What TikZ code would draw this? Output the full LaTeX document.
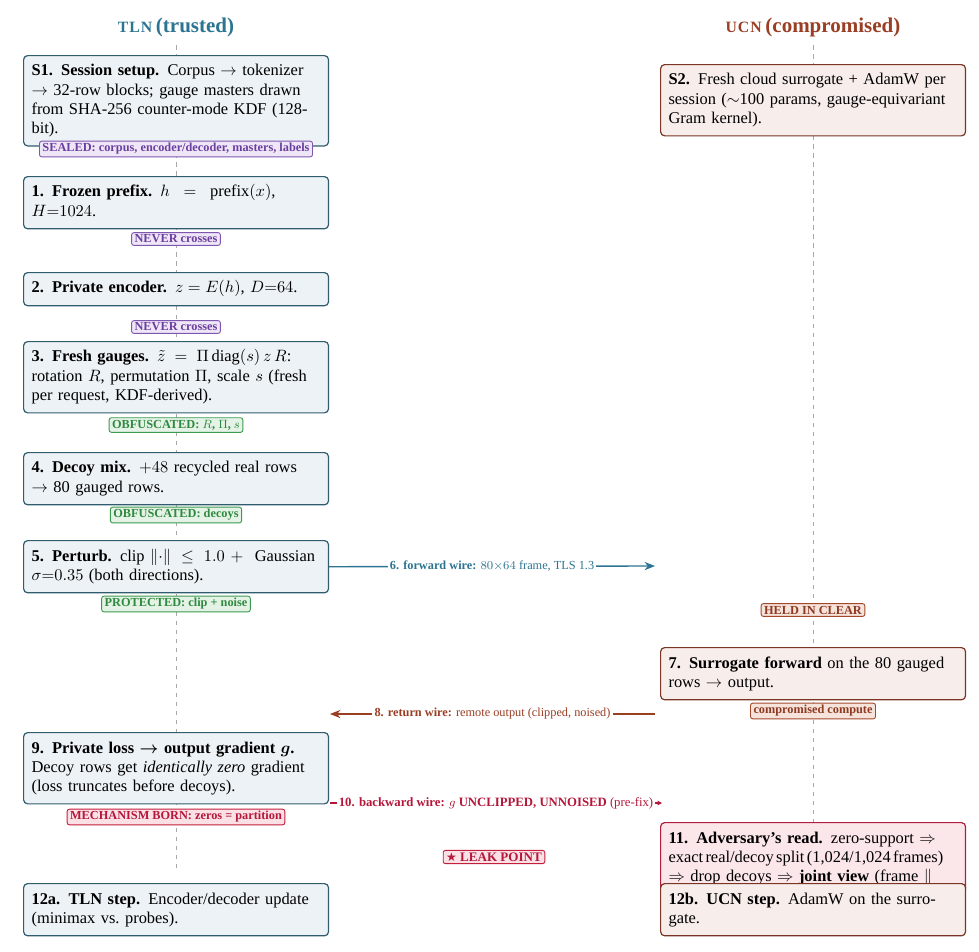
\documentclass[tikz,border=0pt]{standalone}
\usepackage{amsmath}
\usepackage{fontspec}
\setmainfont{Liberation Serif}
\newfontfamily\symfont{DejaVu Sans}
\usetikzlibrary{arrows.meta}
\definecolor{tlnfill}{HTML}{EDF2F6}
\definecolor{tlnline}{HTML}{2F5D6E}
\definecolor{tlntitle}{HTML}{2C7491}
\definecolor{ucnfill}{HTML}{F7EDEB}
\definecolor{ucnline}{HTML}{7A3524}
\definecolor{ucntitle}{HTML}{9A3E24}
\definecolor{advfill}{HTML}{FBE6EA}
\definecolor{advline}{HTML}{B01E3C}
\definecolor{crim}{HTML}{B5173A}
\definecolor{purpfill}{HTML}{EFE7F7}
\definecolor{purpline}{HTML}{7E57B0}
\definecolor{purptext}{HTML}{6B3FA0}
\definecolor{grnfill}{HTML}{E5F3E7}
\definecolor{grnline}{HTML}{3D9A50}
\definecolor{grntext}{HTML}{2F8A3F}
\definecolor{brnfill}{HTML}{F5E3DC}
\definecolor{brnline}{HTML}{A4472B}
\definecolor{brntext}{HTML}{8E3A21}
\definecolor{redfill}{HTML}{FBE0E6}
\definecolor{redline}{HTML}{C41E3A}
\definecolor{lifegray}{HTML}{A8A8A8}
\newcommand\bxt[1]{\parbox[t]{189pt}{\strut #1\strut}}
\newcommand\smc[1]{{\fontsize{10.5}{12}\selectfont\addfontfeature{LetterSpace=6}#1}}
\tikzset{
  basebox/.style={line width=0.8pt, rounded corners=2.7pt, text width=192.7pt,
    align=left, inner xsep=5.3pt, inner ysep=4.7pt, anchor=north west,
    font=\fontsize{10.95}{12.7}\selectfont},
  tlnbox/.style={basebox, draw=tlnline, fill=tlnfill},
  ucnbox/.style={basebox, draw=ucnline, fill=ucnfill},
  advbox/.style={basebox, draw=advline, fill=advfill},
  tag/.style={rounded corners=1.5pt, line width=0.6pt, inner xsep=2pt,
    inner ysep=1.5pt, font=\fontsize{8.2}{9.5}\selectfont\bfseries},
  purptag/.style={tag, draw=purpline, fill=purpfill, text=purptext},
  grntag/.style={tag, draw=grnline, fill=grnfill, text=grntext},
  brntag/.style={tag, draw=brnline, fill=brnfill, text=brntext},
  redtag/.style={tag, draw=redline, fill=redfill, text=crim},
  lifeline/.style={draw=lifegray, line width=0.6pt, dash pattern=on 3pt off 3pt},
  wirelabel/.style={fill=white, inner xsep=1.5pt, inner ysep=1pt,
    font=\fontsize{8.2}{9.5}\selectfont},
  title/.style={font=\bfseries},
}
\begin{document}
\begin{tikzpicture}[x=0.6667pt, y=-0.6667pt]
\useasboundingbox (0,0) rectangle (979,951);
% lifelines
\coordinate (lTop) at (176,45);
\coordinate (lBot) at (176,868);
\coordinate (rTop) at (813,45);
\coordinate (rBot) at (813,868);
\draw[lifeline] (lTop) -- (lBot);
\draw[lifeline] (rTop) -- (rBot);
% titles
\node[title, text=tlntitle] (tTLN) at (176,27)
  {\smc{TLN} {\fontsize{14}{16}\selectfont (trusted)}};
\node[title, text=ucntitle] (tUCN) at (813,27)
  {\smc{UCN} {\fontsize{14}{16}\selectfont (compromised)}};
% TLN boxes
\node[tlnbox] (bS1) at (23,55) {\bxt{\textbf{S1. Session setup.} Corpus $\to$ tokenizer\linebreak $\to$ 32-row blocks; gauge masters drawn\linebreak from SHA-256 counter-mode KDF (128-\linebreak bit).}};
\node[purptag] (tSealed) at (176,149) {SEALED: corpus, encoder/decoder, masters, labels};
\node[tlnbox] (b1) at (23,176) {\bxt{\textbf{1. Frozen prefix.} $h \;\;=\;\; \mathrm{prefix}(x)$,\newline $H{=}1024$.}};
\node[purptag] (tNever1) at (176,239) {NEVER crosses};
\node[tlnbox] (b2) at (23,272) {\bxt{\textbf{2. Private encoder.} $z = E(h)$, $D{=}64$.}};
\node[purptag] (tNever2) at (176,327) {NEVER crosses};
\node[tlnbox] (b3) at (23,341) {\bxt{\textbf{3. Fresh gauges.} $\tilde z \;=\; \Pi\,\mathrm{diag}(s)\,z\,R$:\newline rotation $R$, permutation $\Pi$, scale $s$ (fresh\linebreak per request, KDF-derived).}};
\node[grntag] (tObf1) at (176,425) {OBFUSCATED: $R$, $\Pi$, $s$};
\node[tlnbox] (b4) at (23,452) {\bxt{\textbf{4. Decoy mix.} $+48$ recycled real rows\linebreak $\to$ 80 gauged rows.}};
\node[grntag] (tObf2) at (176,515) {OBFUSCATED: decoys};
\node[tlnbox] (b5) at (23,540) {\bxt{\textbf{5. Perturb.} clip $\|{\cdot}\| \leq 1.0 +{}$ Gaussian\linebreak $\sigma{=}0.35$ (both directions).}};
\node[grntag] (tProt) at (176,604) {PROTECTED: clip + noise};
\node[tlnbox] (b9) at (23,732) {\bxt{\textbf{9. Private loss $\boldsymbol{\to}$ output gradient $\boldsymbol{g}$.}\linebreak Decoy rows get \emph{identically zero} gradient\linebreak (loss truncates before decoys).}};
\node[redtag] (tMech) at (176,817) {MECHANISM BORN: zeros = partition};
\node[tlnbox] (b12a) at (23,883) {\bxt{\textbf{12a. TLN step.} Encoder/decoder update\linebreak (minimax vs.\ probes).}};
% UCN boxes
\node[ucnbox] (bS2) at (660,64) {\bxt{\textbf{S2.} Fresh cloud surrogate + AdamW per\linebreak session ($\sim$100 params, gauge-equivariant\linebreak Gram kernel).}};
\node[brntag] (tHeld) at (813,610) {HELD IN CLEAR};
\node[ucnbox] (b7) at (660,647) {\bxt{\textbf{7. Surrogate forward} on the 80 gauged\linebreak rows $\to$ output.}};
\node[brntag] (tComp) at (813,711) {compromised compute};
\node[advbox] (b11) at (660,822) {\bxt{\textbf{11. Adversary’s read.} zero-support $\Rightarrow$\linebreak \mbox{\spaceskip=0.14em exact real/decoy split (1,024/1,024 frames)}\newline $\Rightarrow$ drop decoys $\Rightarrow$ \textbf{joint view} (frame $\|$}};
\node[ucnbox] (b12b) at (660,883) {\bxt{\textbf{12b. UCN step.} AdamW on the surro-\linebreak gate.}};
% leak point
\node[redtag, font=\fontsize{8.7}{10}\selectfont\bfseries] (tLeak) at (494,857) {{\symfont\fontsize{8}{9}\selectfont ★} LEAK POINT};
% wires
\coordinate (fwdEnd) at (655,566);
\draw[draw=tlntitle, line width=0.9pt, -{Stealth[length=7pt,width=5.5pt]}] (b5.east) -- node[wirelabel, text=tlntitle]
  {\textbf{6. forward wire:} $80{\times}64$ frame, TLS 1.3} (fwdEnd);
\coordinate (retStart) at (655,714);
\coordinate (retEnd) at (330,714);
\draw[draw=ucntitle, line width=0.9pt, -{Stealth[length=7pt,width=5.5pt]}] (retStart) -- node[wirelabel, text=ucntitle]
  {\textbf{8. return wire:} remote output (clipped, noised)} (retEnd);
\coordinate (bwStart) at (330,803);
\coordinate (bwEnd) at (662,803);
\draw[draw=crim, line width=0.9pt, -{Triangle[length=3pt,width=3pt]}] (bwStart) -- node[wirelabel, text=crim, font=\fontsize{8.5}{9.5}\selectfont]
  {\textbf{10. backward wire:} $g$ \textbf{UNCLIPPED, UNNOISED} (pre-fix)} (bwEnd);
\end{tikzpicture}
\end{document}
